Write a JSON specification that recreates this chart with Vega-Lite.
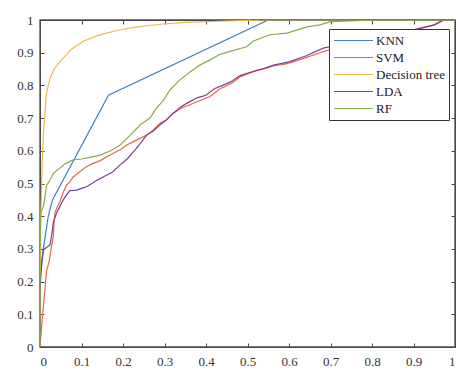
{
  "$schema": "https://vega.github.io/schema/vega-lite/v6.json",
  "width": 415,
  "height": 327,
  "autosize": {"type": "none"},
  "padding": {"left": 40, "top": 20, "right": 19, "bottom": 35},
  "background": "white",
  "config": {
    "view": {"stroke": null},
    "axis": {
      "grid": false,
      "domainColor": "#4a4a4a",
      "tickColor": "#4a4a4a",
      "tickSize": -4,
      "labelFont": "Times New Roman, Liberation Serif, serif",
      "labelFontSize": 13,
      "labelColor": "#333333",
      "title": null
    }
  },
  "datasets": {
    "roc": [
      {"model": "KNN", "fpr": 0, "tpr": 0},
      {"model": "KNN", "fpr": 0, "tpr": 0.22},
      {"model": "KNN", "fpr": 0.008, "tpr": 0.3},
      {"model": "KNN", "fpr": 0.02, "tpr": 0.4},
      {"model": "KNN", "fpr": 0.03, "tpr": 0.45},
      {"model": "KNN", "fpr": 0.165, "tpr": 0.77},
      {"model": "KNN", "fpr": 0.55, "tpr": 1},
      {"model": "KNN", "fpr": 1, "tpr": 1},

      {"model": "SVM", "fpr": 0, "tpr": 0},
      {"model": "SVM", "fpr": 0.005, "tpr": 0.08},
      {"model": "SVM", "fpr": 0.01, "tpr": 0.15},
      {"model": "SVM", "fpr": 0.016, "tpr": 0.235},
      {"model": "SVM", "fpr": 0.022, "tpr": 0.26},
      {"model": "SVM", "fpr": 0.028, "tpr": 0.31},
      {"model": "SVM", "fpr": 0.032, "tpr": 0.336},
      {"model": "SVM", "fpr": 0.034, "tpr": 0.38},
      {"model": "SVM", "fpr": 0.036, "tpr": 0.41},
      {"model": "SVM", "fpr": 0.042, "tpr": 0.43},
      {"model": "SVM", "fpr": 0.048, "tpr": 0.444},
      {"model": "SVM", "fpr": 0.055, "tpr": 0.47},
      {"model": "SVM", "fpr": 0.064, "tpr": 0.495},
      {"model": "SVM", "fpr": 0.072, "tpr": 0.505},
      {"model": "SVM", "fpr": 0.08, "tpr": 0.52},
      {"model": "SVM", "fpr": 0.096, "tpr": 0.536},
      {"model": "SVM", "fpr": 0.11, "tpr": 0.55},
      {"model": "SVM", "fpr": 0.125, "tpr": 0.56},
      {"model": "SVM", "fpr": 0.145, "tpr": 0.57},
      {"model": "SVM", "fpr": 0.161, "tpr": 0.582},
      {"model": "SVM", "fpr": 0.18, "tpr": 0.595},
      {"model": "SVM", "fpr": 0.195, "tpr": 0.605},
      {"model": "SVM", "fpr": 0.209, "tpr": 0.618},
      {"model": "SVM", "fpr": 0.225, "tpr": 0.628},
      {"model": "SVM", "fpr": 0.241, "tpr": 0.638},
      {"model": "SVM", "fpr": 0.26, "tpr": 0.65},
      {"model": "SVM", "fpr": 0.273, "tpr": 0.664},
      {"model": "SVM", "fpr": 0.29, "tpr": 0.685},
      {"model": "SVM", "fpr": 0.305, "tpr": 0.695},
      {"model": "SVM", "fpr": 0.321, "tpr": 0.715},
      {"model": "SVM", "fpr": 0.34, "tpr": 0.73},
      {"model": "SVM", "fpr": 0.36, "tpr": 0.74},
      {"model": "SVM", "fpr": 0.378, "tpr": 0.75},
      {"model": "SVM", "fpr": 0.41, "tpr": 0.766},
      {"model": "SVM", "fpr": 0.434, "tpr": 0.79},
      {"model": "SVM", "fpr": 0.46, "tpr": 0.805},
      {"model": "SVM", "fpr": 0.482, "tpr": 0.826},
      {"model": "SVM", "fpr": 0.52, "tpr": 0.845},
      {"model": "SVM", "fpr": 0.546, "tpr": 0.853},
      {"model": "SVM", "fpr": 0.563, "tpr": 0.86},
      {"model": "SVM", "fpr": 0.59, "tpr": 0.865},
      {"model": "SVM", "fpr": 0.61, "tpr": 0.872},
      {"model": "SVM", "fpr": 0.64, "tpr": 0.885},
      {"model": "SVM", "fpr": 0.675, "tpr": 0.9},
      {"model": "SVM", "fpr": 0.7, "tpr": 0.91},
      {"model": "SVM", "fpr": 0.75, "tpr": 0.93},
      {"model": "SVM", "fpr": 0.8, "tpr": 0.945},
      {"model": "SVM", "fpr": 0.85, "tpr": 0.955},
      {"model": "SVM", "fpr": 0.88, "tpr": 0.965},
      {"model": "SVM", "fpr": 0.9, "tpr": 0.97},
      {"model": "SVM", "fpr": 0.93, "tpr": 0.98},
      {"model": "SVM", "fpr": 0.95, "tpr": 0.985},
      {"model": "SVM", "fpr": 0.965, "tpr": 0.995},
      {"model": "SVM", "fpr": 0.975, "tpr": 1},
      {"model": "SVM", "fpr": 1, "tpr": 1},

      {"model": "Decision tree", "fpr": 0, "tpr": 0},
      {"model": "Decision tree", "fpr": 0.002, "tpr": 0.4},
      {"model": "Decision tree", "fpr": 0.005, "tpr": 0.55},
      {"model": "Decision tree", "fpr": 0.008, "tpr": 0.65},
      {"model": "Decision tree", "fpr": 0.012, "tpr": 0.72},
      {"model": "Decision tree", "fpr": 0.016, "tpr": 0.78},
      {"model": "Decision tree", "fpr": 0.025, "tpr": 0.825},
      {"model": "Decision tree", "fpr": 0.035, "tpr": 0.852},
      {"model": "Decision tree", "fpr": 0.052, "tpr": 0.878},
      {"model": "Decision tree", "fpr": 0.075, "tpr": 0.91},
      {"model": "Decision tree", "fpr": 0.104, "tpr": 0.935},
      {"model": "Decision tree", "fpr": 0.14, "tpr": 0.953},
      {"model": "Decision tree", "fpr": 0.185, "tpr": 0.968},
      {"model": "Decision tree", "fpr": 0.23, "tpr": 0.978},
      {"model": "Decision tree", "fpr": 0.29, "tpr": 0.987},
      {"model": "Decision tree", "fpr": 0.35, "tpr": 0.993},
      {"model": "Decision tree", "fpr": 0.45, "tpr": 0.997},
      {"model": "Decision tree", "fpr": 0.55, "tpr": 1},
      {"model": "Decision tree", "fpr": 1, "tpr": 1},

      {"model": "LDA", "fpr": 0, "tpr": 0},
      {"model": "LDA", "fpr": 0, "tpr": 0.18},
      {"model": "LDA", "fpr": 0.004, "tpr": 0.25},
      {"model": "LDA", "fpr": 0.008, "tpr": 0.296},
      {"model": "LDA", "fpr": 0.016, "tpr": 0.305},
      {"model": "LDA", "fpr": 0.024, "tpr": 0.312},
      {"model": "LDA", "fpr": 0.028, "tpr": 0.34},
      {"model": "LDA", "fpr": 0.032, "tpr": 0.38},
      {"model": "LDA", "fpr": 0.04, "tpr": 0.41},
      {"model": "LDA", "fpr": 0.048, "tpr": 0.43},
      {"model": "LDA", "fpr": 0.056, "tpr": 0.45},
      {"model": "LDA", "fpr": 0.064, "tpr": 0.465},
      {"model": "LDA", "fpr": 0.072, "tpr": 0.478},
      {"model": "LDA", "fpr": 0.088, "tpr": 0.48},
      {"model": "LDA", "fpr": 0.1, "tpr": 0.485},
      {"model": "LDA", "fpr": 0.112, "tpr": 0.49},
      {"model": "LDA", "fpr": 0.125, "tpr": 0.5},
      {"model": "LDA", "fpr": 0.137, "tpr": 0.51},
      {"model": "LDA", "fpr": 0.145, "tpr": 0.515},
      {"model": "LDA", "fpr": 0.16, "tpr": 0.525},
      {"model": "LDA", "fpr": 0.175, "tpr": 0.535},
      {"model": "LDA", "fpr": 0.193, "tpr": 0.557},
      {"model": "LDA", "fpr": 0.21, "tpr": 0.575},
      {"model": "LDA", "fpr": 0.225, "tpr": 0.597},
      {"model": "LDA", "fpr": 0.24, "tpr": 0.62},
      {"model": "LDA", "fpr": 0.257, "tpr": 0.648},
      {"model": "LDA", "fpr": 0.272, "tpr": 0.66},
      {"model": "LDA", "fpr": 0.289, "tpr": 0.679},
      {"model": "LDA", "fpr": 0.305, "tpr": 0.695},
      {"model": "LDA", "fpr": 0.321, "tpr": 0.715},
      {"model": "LDA", "fpr": 0.337, "tpr": 0.732},
      {"model": "LDA", "fpr": 0.353, "tpr": 0.745},
      {"model": "LDA", "fpr": 0.378, "tpr": 0.762},
      {"model": "LDA", "fpr": 0.4, "tpr": 0.77},
      {"model": "LDA", "fpr": 0.42, "tpr": 0.79},
      {"model": "LDA", "fpr": 0.44, "tpr": 0.8},
      {"model": "LDA", "fpr": 0.458, "tpr": 0.81},
      {"model": "LDA", "fpr": 0.482, "tpr": 0.83},
      {"model": "LDA", "fpr": 0.501, "tpr": 0.838},
      {"model": "LDA", "fpr": 0.53, "tpr": 0.848},
      {"model": "LDA", "fpr": 0.563, "tpr": 0.862},
      {"model": "LDA", "fpr": 0.6, "tpr": 0.872},
      {"model": "LDA", "fpr": 0.64, "tpr": 0.89},
      {"model": "LDA", "fpr": 0.683, "tpr": 0.914},
      {"model": "LDA", "fpr": 0.72, "tpr": 0.925},
      {"model": "LDA", "fpr": 0.77, "tpr": 0.935},
      {"model": "LDA", "fpr": 0.82, "tpr": 0.95},
      {"model": "LDA", "fpr": 0.86, "tpr": 0.96},
      {"model": "LDA", "fpr": 0.9, "tpr": 0.97},
      {"model": "LDA", "fpr": 0.93, "tpr": 0.978},
      {"model": "LDA", "fpr": 0.95, "tpr": 0.985},
      {"model": "LDA", "fpr": 0.965, "tpr": 0.995},
      {"model": "LDA", "fpr": 0.97, "tpr": 1},
      {"model": "LDA", "fpr": 1, "tpr": 1},

      {"model": "RF", "fpr": 0, "tpr": 0},
      {"model": "RF", "fpr": 0, "tpr": 0.3},
      {"model": "RF", "fpr": 0.002, "tpr": 0.41},
      {"model": "RF", "fpr": 0.008, "tpr": 0.43},
      {"model": "RF", "fpr": 0.012, "tpr": 0.46},
      {"model": "RF", "fpr": 0.016, "tpr": 0.495},
      {"model": "RF", "fpr": 0.024, "tpr": 0.51},
      {"model": "RF", "fpr": 0.032, "tpr": 0.53},
      {"model": "RF", "fpr": 0.04, "tpr": 0.54},
      {"model": "RF", "fpr": 0.048, "tpr": 0.547},
      {"model": "RF", "fpr": 0.06, "tpr": 0.56},
      {"model": "RF", "fpr": 0.08, "tpr": 0.572},
      {"model": "RF", "fpr": 0.1, "tpr": 0.575},
      {"model": "RF", "fpr": 0.12, "tpr": 0.58},
      {"model": "RF", "fpr": 0.145, "tpr": 0.587},
      {"model": "RF", "fpr": 0.17, "tpr": 0.6},
      {"model": "RF", "fpr": 0.193, "tpr": 0.618},
      {"model": "RF", "fpr": 0.215, "tpr": 0.645},
      {"model": "RF", "fpr": 0.241, "tpr": 0.679},
      {"model": "RF", "fpr": 0.265, "tpr": 0.7},
      {"model": "RF", "fpr": 0.281, "tpr": 0.731},
      {"model": "RF", "fpr": 0.295, "tpr": 0.75},
      {"model": "RF", "fpr": 0.313, "tpr": 0.786},
      {"model": "RF", "fpr": 0.337, "tpr": 0.817},
      {"model": "RF", "fpr": 0.361, "tpr": 0.84},
      {"model": "RF", "fpr": 0.385, "tpr": 0.862},
      {"model": "RF", "fpr": 0.41, "tpr": 0.878},
      {"model": "RF", "fpr": 0.434, "tpr": 0.895},
      {"model": "RF", "fpr": 0.46, "tpr": 0.905},
      {"model": "RF", "fpr": 0.498, "tpr": 0.918},
      {"model": "RF", "fpr": 0.513, "tpr": 0.935},
      {"model": "RF", "fpr": 0.554, "tpr": 0.955},
      {"model": "RF", "fpr": 0.595, "tpr": 0.96},
      {"model": "RF", "fpr": 0.62, "tpr": 0.97},
      {"model": "RF", "fpr": 0.643, "tpr": 0.979},
      {"model": "RF", "fpr": 0.675, "tpr": 0.985},
      {"model": "RF", "fpr": 0.7, "tpr": 0.995},
      {"model": "RF", "fpr": 0.75, "tpr": 0.997},
      {"model": "RF", "fpr": 0.8, "tpr": 1},
      {"model": "RF", "fpr": 1, "tpr": 1}
    ],
    "frame": [
      {"fx0": 0, "fx1": 1, "fy0": 0, "fy1": 1}
    ]
  },
  "layer": [
    {
      "data": {"name": "frame"},
      "mark": {"type": "rect", "fill": null, "fillOpacity": 0, "stroke": "#4a4a4a", "strokeWidth": 1.3},
      "encoding": {
        "x": {"field": "fx0", "type": "quantitative", "scale": {"domain": [0, 1], "nice": false},
              "axis": {"orient": "top", "values": [0,0.1,0.2,0.3,0.4,0.5,0.6,0.7,0.8,0.9,1], "labels": false}},
        "x2": {"field": "fx1"},
        "y": {"field": "fy0", "type": "quantitative", "scale": {"domain": [0, 1], "nice": false},
              "axis": {"orient": "right", "values": [0,0.1,0.2,0.3,0.4,0.5,0.6,0.7,0.8,0.9,1], "labels": false}},
        "y2": {"field": "fy1"}
      }
    },
    {
      "data": {"name": "roc"},
      "mark": {"type": "line", "strokeWidth": 1.2, "clip": true},
      "encoding": {
        "x": {"field": "fpr", "type": "quantitative", "scale": {"domain": [0, 1], "nice": false},
              "axis": {"orient": "bottom", "values": [0,0.1,0.2,0.3,0.4,0.5,0.6,0.7,0.8,0.9,1], "format": "~g", "labelPadding": 12}},
        "y": {"field": "tpr", "type": "quantitative", "scale": {"domain": [0, 1], "nice": false},
              "axis": {"orient": "left", "values": [0,0.1,0.2,0.3,0.4,0.5,0.6,0.7,0.8,0.9,1], "format": "~g", "labelPadding": 11}},
        "color": {
          "field": "model", "type": "nominal",
          "scale": {"domain": ["KNN", "SVM", "Decision tree", "LDA", "RF"],
                    "range": ["#3f7fbf", "#e06a45", "#e8bd4f", "#7d3f93", "#86ad4a"]},
          "legend": {
            "title": null, "orient": "none", "legendX": 289, "legendY": 9,
            "symbolType": "M-1,0H5", "symbolSize": 169, "symbolStrokeWidth": 1.2,
            "labelFont": "Times New Roman, Liberation Serif, serif", "labelFontSize": 13, "labelColor": "#222222",
            "strokeColor": "#333333", "fillColor": "white", "padding": 4, "labelOffset": 28,
            "rowPadding": 2
          }
        },
        "order": {"field": "fpr"}
      }
    }
  ],
  "resolve": {"axis": {"x": "independent", "y": "independent"}}
}
